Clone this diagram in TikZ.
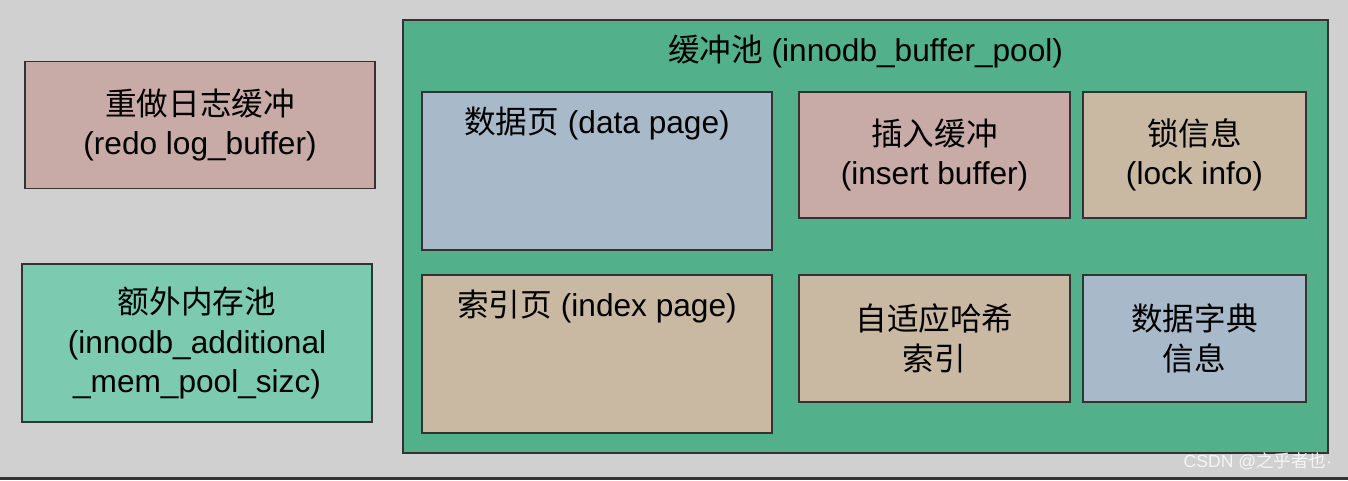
\documentclass[tikz,border=0pt]{standalone}
\usepackage{fontspec}
\setmainfont{Liberation Sans}
\newfontfamily\cjk{Noto Sans CJK SC}
\usetikzlibrary{positioning}
\definecolor{bggray}{HTML}{D0D0D0}
\definecolor{poolgreen}{HTML}{52B08A}
\definecolor{memteal}{HTML}{7CCBB0}
\definecolor{bufpink}{HTML}{C8AAA6}
\definecolor{pagetan}{HTML}{C9B8A2}
\definecolor{pageblue}{HTML}{A8BACA}
\definecolor{edgegray}{HTML}{333333}

\begin{document}
\begin{tikzpicture}[x=0.02cm,y=-0.02cm,font=\fontsize{18}{22.5}\selectfont]
\tikzstyle{box}=[draw=edgegray,line width=0.8pt,rectangle,align=center,inner sep=0pt]
\tikzstyle{txt}=[align=center,inner sep=0pt]
\tikzstyle{cjkbox}=[box,font=\fontsize{18}{22.5}\selectfont\cjk]
\fill[bggray] (0,0) rectangle (1348,480);
\useasboundingbox (0,0) rectangle (1348,480);
\fill[black!80] (0,477) rectangle (1348,480);

% left side
\node[box,fill=bufpink,minimum width=7cm,minimum height=2.54cm] (redo) at (200,125)
  {{\cjk 重做日志缓冲}\\(redo log\_buffer)};
\node[box,fill=memteal,minimum width=7cm,minimum height=3.16cm] (addmem) at (197,343)
  {{\cjk 额外内存池}\\(innodb\_additional\\\_mem\_pool\_sizc)};

% buffer pool
\node[box,fill=poolgreen,minimum width=18.5cm,minimum height=8.66cm] (pool) at (865.5,236.5) {};
\node[txt] (poolt) at ([yshift=-0.64cm]pool.north) {{\cjk 缓冲池} (innodb\_buffer\_pool)};

\node[box,fill=pageblue,minimum width=7cm,minimum height=3.16cm] (datap) at (597,171) {};
\node[txt] (datapt) at ([yshift=-0.64cm]datap.north) {{\cjk 数据页} (data page)};
\node[box,fill=pagetan,minimum width=7cm,minimum height=3.16cm] (indexp) at (597,354) {};
\node[txt] (indexpt) at ([yshift=-0.64cm]indexp.north) {{\cjk 索引页} (index page)};

\node[box,fill=bufpink,minimum width=5.42cm,minimum height=2.52cm] (insbuf) at (934.5,155)
  {{\cjk 插入缓冲}\\(insert buffer)};
\node[box,fill=pagetan,minimum width=4.46cm,minimum height=2.52cm] (lock) at (1194.5,155)
  {{\cjk 锁信息}\\(lock info)};
\node[cjkbox,fill=pagetan,minimum width=5.42cm,minimum height=2.54cm] (ahash) at (934.5,338.5)
  {自适应哈希\\索引};
\node[cjkbox,fill=pageblue,minimum width=4.46cm,minimum height=2.54cm] (dict) at (1194.5,338.5)
  {数据字典\\信息};

\node[txt,text=white!92!gray,font=\fontsize{10}{12}\selectfont] (mark) at (1258,461)
  {CSDN @{\cjk 之乎者也}·};
\end{tikzpicture}
\end{document}
